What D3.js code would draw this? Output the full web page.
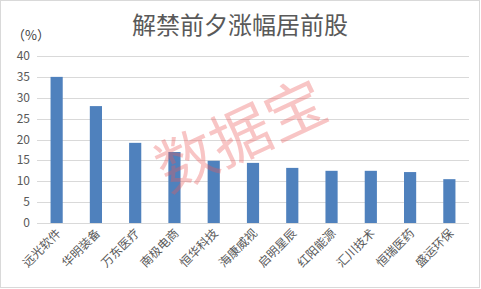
<!DOCTYPE html>
<html>
<head>
<meta charset="utf-8">
<script src="https://cdn.jsdelivr.net/npm/d3@7"></script>
<style>
body{margin:0;background:#fff;}
text{font-family:"Microsoft YaHei","Noto Sans CJK SC",sans-serif;}
</style>
</head>
<body>
<div id="container"></div>
<script>
var names = ['远光软件','华明装备','万东医疗','南极电商','恒华科技','海康威视','启明星辰','红阳能源','汇川技术','恒瑞医药','盛运环保'];
var values = [35.0, 28.0, 19.2, 17.0, 14.9, 14.4, 13.2, 12.5, 12.5, 12.2, 10.5];
var yTicks = [0, 5, 10, 15, 20, 25, 30, 35, 40];

var width = 481, height = 289;
var plotLeft = 37, plotRight = 469, plotTop = 56, plotBottom = 223;
var textColor = '#595959';

var svg = d3.select('#container')
    .append('svg')
    .attr('width', width)
    .attr('height', height);

svg.append('rect')
    .attr('x', 0.5).attr('y', 0.5)
    .attr('width', width-2).attr('height', height-2)
    .attr('fill', '#fff')
    .attr('stroke', '#d9d9d9');

var x = d3.scaleBand().domain(names).range([plotLeft, plotRight]).paddingInner(0.69).paddingOuter(0.345);
var y = d3.scaleLinear().domain([0, 40]).range([plotBottom, plotTop]);

// gridlines
svg.append('g')
    .selectAll('line')
    .data(yTicks)
    .enter().append('line')
    .attr('x1', plotLeft).attr('x2', plotRight)
    .attr('y1', function(d){ return Math.round(y(d))+0.5; })
    .attr('y2', function(d){ return Math.round(y(d))+0.5; })
    .attr('stroke', '#d9d9d9')
    .attr('stroke-width', 1);

// y labels
svg.append('g')
    .selectAll('text')
    .data(yTicks)
    .enter().append('text')
    .attr('x', 30)
    .attr('y', function(d){ return y(d)+4; })
    .attr('text-anchor', 'end')
    .attr('font-size', 12)
    .attr('fill', textColor)
    .text(function(d){ return d; });

// bars
svg.append('g')
    .selectAll('rect')
    .data(values)
    .enter().append('rect')
    .attr('x', function(d, i){ return x(names[i]); })
    .attr('y', function(d){ return y(d); })
    .attr('width', x.bandwidth())
    .attr('height', function(d){ return plotBottom - y(d); })
    .attr('fill', '#4f81bd');

// category labels
svg.append('g')
    .selectAll('text')
    .data(names)
    .enter().append('text')
    .attr('transform', function(d){
        var cx = x(d) + x.bandwidth()/2 + 5;
        return 'translate(' + cx + ',' + 234 + ') rotate(-45)';
    })
    .attr('text-anchor', 'end')
    .attr('font-size', 12)
    .attr('fill', textColor)
    .text(function(d){ return d; });

// title
svg.append('text')
    .attr('x', 240)
    .attr('y', 34)
    .attr('text-anchor', 'middle')
    .attr('font-size', 24)
    .attr('fill', textColor)
    .text('解禁前夕涨幅居前股');

// unit
svg.append('text')
    .attr('x', 12)
    .attr('y', 40)
    .attr('font-size', 13)
    .attr('fill', '#404040')
    .text('（%）');

// watermark
svg.append('text')
    .attr('transform', 'translate(250,155) rotate(-25)')
    .attr('text-anchor', 'middle')
    .attr('font-size', 60)
    .attr('fill', 'rgba(235,90,90,0.35)')
    .text('数据宝');
</script>
</body>
</html>
